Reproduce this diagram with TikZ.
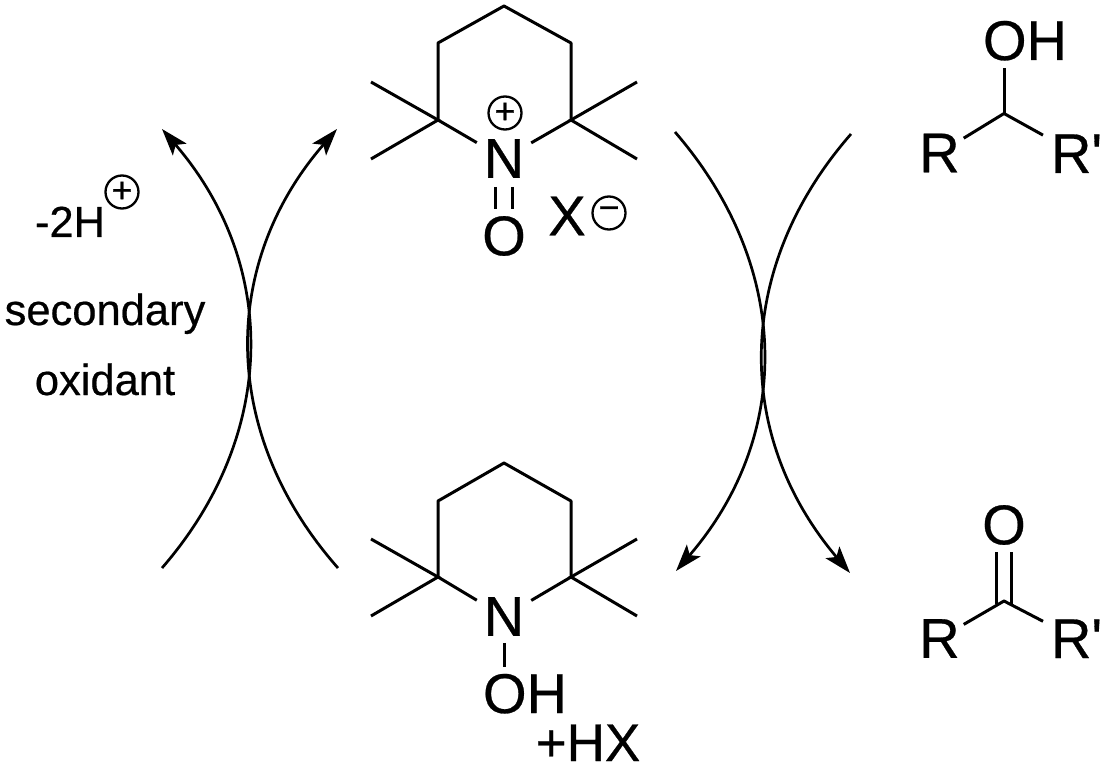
\documentclass[tikz,border=0pt]{standalone}
\usepackage{fontspec}
\setmainfont[Ligatures=TeXOff,FakeBold=0.5]{Liberation Sans}
\usetikzlibrary{arrows.meta}
\tikzset{
  atom/.style={font=\fontsize{56}{60}\selectfont,inner xsep=6pt,inner ysep=7pt,outer sep=0pt},
  lab/.style={font=\fontsize{43.5}{48}\selectfont,inner sep=0pt,anchor=base},
  bond/.style={line width=3pt,line cap=butt,line join=miter},
  curvearrow/.style={line width=2.7pt,-{Stealth[length=27pt,width=18pt,inset=6pt]}},
  charge/.style={circle,draw,line width=2.3pt,minimum size=33pt,inner sep=0pt,font=\fontsize{36}{36}\selectfont}
}
\begin{document}
\begin{tikzpicture}[x=1pt,y=-1pt]
\useasboundingbox (0,0) rectangle (1103,767);
% upper piperidine
\coordinate (a1) at (504,6);
\coordinate (a2) at (571,43);
\coordinate (a3) at (571,120);
\coordinate (a5) at (438,120);
\coordinate (a6) at (438,43);
\coordinate (m1) at (371,82);
\coordinate (m2) at (371,159);
\coordinate (m3) at (637,82);
\coordinate (m4) at (637,159);
\node[atom,inner xsep=7pt] (N1) at (504,158.5) {N};
\node[atom] (O1) at (504,236) {O};
\node[charge] (plus1) at (505,113) {+};
\node[atom,inner sep=0pt] (X1) at (567,216) {X};
\node[charge] (minus1) at (609,213) {−};
\draw[bond] (m1) -- (a5) -- (m2);
\draw[bond] (m3) -- (a3) -- (m4);
\draw[bond,line join=round] (N1) -- (a5) -- (a6) -- (a1) -- (a2) -- (a3) -- (N1);
\draw[bond] ([xshift=-8.5pt]N1.south) ++(0,2) -- ([xshift=-8.5pt]O1.north);
\draw[bond] ([xshift=8.5pt]N1.south) ++(0,2) -- ([xshift=8.5pt]O1.north);
% lower piperidine
\coordinate (b1) at (504,463);
\coordinate (b2) at (571,501);
\coordinate (b3) at (571,577);
\coordinate (b5) at (438,577);
\coordinate (b6) at (438,501);
\coordinate (n1) at (371,539);
\coordinate (n2) at (371,616);
\coordinate (n3) at (637,539);
\coordinate (n4) at (637,616);
\node[atom,inner xsep=7pt] (N2) at (504,616.5) {N};
\node[atom,anchor=base west,inner xsep=0pt] (OH2) at (483,713) {OH};
\node[atom,anchor=base,inner sep=0pt,font=\fontsize{53}{56}\selectfont] (HX) at (588,761) {+HX};
\draw[bond] (n1) -- (b5) -- (n2);
\draw[bond] (n3) -- (b3) -- (n4);
\draw[bond,line join=round] (N2) -- (b5) -- (b6) -- (b1) -- (b2) -- (b3) -- (N2);
\draw[bond] (N2.south) -- (N2.south |- OH2.north);
% alcohol
\coordinate (c1) at (1004,113.5);
\node[atom,anchor=base west,inner xsep=0pt] (OH3) at (983,60) {OH};
\node[atom,inner xsep=4pt] (R1) at (939.5,153) {R};
\node[atom,anchor=base west,inner xsep=8pt] (R2) at (1043,173) {R'};
\draw[bond] (c1) -- (c1 |- OH3.south);
\draw[bond,line join=round] (R1) -- (c1) -- (R2);
% ketone
\coordinate (d1) at (1004,601);
\node[atom] (O4) at (1004,525) {O};
\node[atom,inner xsep=4pt] (R3) at (939.5,638.5) {R};
\node[atom,anchor=base west,inner xsep=8pt] (R4) at (1043,658) {R'};
\coordinate (d2) at (996.5,604);
\coordinate (d3) at (1011.5,604);
\draw[bond] (d2) -- (d2 |- O4.south);
\draw[bond] (d3) -- (d3 |- O4.south);
\draw[bond,line join=round] (R3) -- (d1) -- (R4);
% labels
\node[lab] (t1) at (70,237) {-2H};
\node[charge] (plus2) at (122,192) {+};
\node[lab] (t2) at (105,325) {secondary};
\node[lab] (t3) at (105,395) {oxidant};
% curved arrows
\coordinate (p1) at (162,568);
\coordinate (p2) at (162,129);
\coordinate (p3) at (338,568);
\coordinate (p4) at (337,129);
\coordinate (q1) at (675,132);
\coordinate (q2) at (676,571);
\coordinate (q3) at (851,134);
\coordinate (q4) at (850,573);
\draw[curvearrow] (p1) .. controls (278.3,434) and (278.3,264) .. (p2);
\draw[curvearrow] (p3) .. controls (219.8,434) and (219.8,264) .. (p4);
\draw[curvearrow] (q1) .. controls (792.5,268) and (792.5,436) .. (q2);
\draw[curvearrow] (q3) .. controls (733.8,268) and (733.8,436) .. (q4);
\end{tikzpicture}
\end{document}
